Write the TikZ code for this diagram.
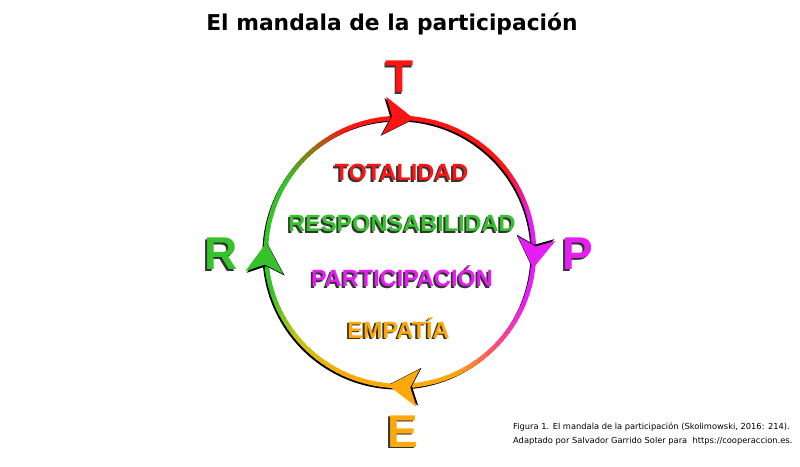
\documentclass[tikz,border=0pt]{standalone}
\usepackage{fontspec}
\setmainfont{Liberation Sans}
\newfontfamily\titlefont{DejaVu Sans}
\usetikzlibrary{calc}

\definecolor{tred}{HTML}{FF1414}
\definecolor{pmag}{HTML}{E61EF5}
\definecolor{ppink}{HTML}{FF4F6E}
\definecolor{eorange}{HTML}{FFA80A}
\definecolor{ryellow}{HTML}{C8C414}
\definecolor{rgreen}{HTML}{35C22A}
\definecolor{olive}{HTML}{8C7A12}
\definecolor{shade}{HTML}{333333}

\tikzset{
  word/.style={font=\fontsize{23.5}{24}\selectfont\bfseries, anchor=base, inner sep=0pt},
  letter/.style={font=\fontsize{46}{46}\selectfont\bfseries, anchor=base, inner sep=0pt},
  ring/.style={line width=4.5pt},
}

% text with a dark drop shadow
\newcommand\shadowed[5]{%
  \node[#5, text=shade, xshift=-1.8pt, yshift=-1.5pt] (#1s) at (#2) {#4};
  \node[#5, text=#3] (#1) at (#2) {#4};
}

% arrow head on the ring, tip at angle #1, pointing clockwise
\newcommand\ringhead[2]{%
  \begin{scope}[shift={(#1:134)}, rotate=#1-90]
    \fill[black, xshift=-1.5pt, yshift=-1.5pt] (0,0) -- (-30,19) -- (-22,0) -- (-30,-19) -- cycle;
    \fill[#2] (0,0) -- (-30,19) -- (-22,0) -- (-30,-19) -- cycle;
  \end{scope}
}

\begin{document}
\begin{tikzpicture}[x=1pt,y=1pt]
\useasboundingbox (0,0) rectangle (800,466);

% Centre of the mandala
\coordinate (O) at (400,214);

% Title
\node[font=\titlefont\fontsize{21.8}{24}\selectfont\bfseries, anchor=base] (title) at (392,435) {El mandala de la participación};

\begin{scope}[shift={(O)}]
  % Shadow of the ring
  \draw[black, line width=3.5pt, xshift=-1.8pt, yshift=-1.8pt] (0,0) circle[radius=134];

  % Ring, coloured piece by piece (clockwise from the top)
  \foreach \a/\b/\ca/\cb in {90/40/tred/tred, 40/15/tred/pmag, 15/-22/pmag/pmag,
      -22/-45/pmag/ppink, -45/-65/ppink/eorange, -65/-112/eorange/eorange,
      -112/-138/eorange/ryellow, -138/-162/ryellow/rgreen, -162/-210/rgreen/rgreen,
      -210/-228/rgreen/olive, -228/-245/olive/tred, -245/-270/tred/tred} {
    \foreach \i in {0,...,9} {
      \pgfmathsetmacro\s{\a+(\b-\a)*\i/10}
      \pgfmathsetmacro\e{\a+(\b-\a)*(\i+1)/10-0.7}
      \pgfmathtruncatemacro\p{100-10*\i}
      \draw[ring, \ca!\p!\cb] (\s:134) arc[start angle=\s, end angle=\e, radius=134];
    }
  }

  % Arrow heads
  \ringhead{84}{tred}
  \ringhead{-7}{pmag}
  \ringhead{-95}{eorange}
  \ringhead{176}{rgreen}
\end{scope}

% Letters round the ring
\shadowed{T}{400,373}{tred}{T}{letter}
\shadowed{P}{578,196}{pmag}{P}{letter}
\shadowed{E}{403,19}{eorange}{E}{letter}
\shadowed{R}{221,196}{rgreen}{R}{letter}

% Words inside the ring
\shadowed{tot}{401.5,285}{tred}{TOTALIDAD}{word}
\shadowed{resp}{402,234}{rgreen}{RESPONSABILIDAD}{word}
\shadowed{part}{402,179}{pmag}{PARTICIPACIÓN}{word}
\shadowed{emp}{398.5,128}{eorange}{EMPATÍA}{word}

% Caption
\node[font=\titlefont\fontsize{8.3}{14}\selectfont, anchor=base west, align=left, inner sep=0pt] (caption) at (513,23)
  {Figura 1. El mandala de la participación (Skolimowski, 2016: 214).\\Adaptado por Salvador Garrido Soler para\ \ https://cooperaccion.es.};
\end{tikzpicture}
\end{document}
